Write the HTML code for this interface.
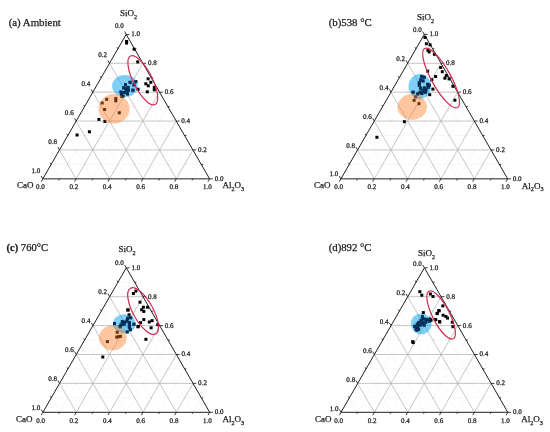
<!DOCTYPE html><html><head><meta charset="utf-8"><title>Ternary diagrams</title><style>html,body{margin:0;padding:0;background:#fff;}svg{display:block;}text{font-family:"Liberation Serif", "Times New Roman", serif;fill:#1a1a1a;stroke:#1a1a1a;stroke-width:0.25px;}</style></head><body>
<svg width="550" height="432" viewBox="0 0 550 432">
<rect width="550" height="432" fill="#fff"/>
<line x1="117.86" y1="48.84" x2="134.54" y2="48.84" stroke="#f4f4f4" stroke-width="0.7"/>
<line x1="59.48" y1="178.85" x2="134.54" y2="48.84" stroke="#f4f4f4" stroke-width="0.7"/>
<line x1="59.48" y1="178.85" x2="51.14" y2="164.41" stroke="#f4f4f4" stroke-width="0.7"/>
<line x1="101.18" y1="77.73" x2="151.22" y2="77.73" stroke="#f4f4f4" stroke-width="0.7"/>
<line x1="92.84" y1="178.85" x2="151.22" y2="77.74" stroke="#f4f4f4" stroke-width="0.7"/>
<line x1="92.84" y1="178.85" x2="67.82" y2="135.51" stroke="#f4f4f4" stroke-width="0.7"/>
<line x1="84.5" y1="106.62" x2="167.9" y2="106.62" stroke="#f4f4f4" stroke-width="0.7"/>
<line x1="126.2" y1="178.85" x2="167.9" y2="106.62" stroke="#f4f4f4" stroke-width="0.7"/>
<line x1="126.2" y1="178.85" x2="84.5" y2="106.62" stroke="#f4f4f4" stroke-width="0.7"/>
<line x1="67.82" y1="135.51" x2="184.58" y2="135.51" stroke="#f4f4f4" stroke-width="0.7"/>
<line x1="159.56" y1="178.85" x2="184.58" y2="135.51" stroke="#f4f4f4" stroke-width="0.7"/>
<line x1="159.56" y1="178.85" x2="101.18" y2="77.74" stroke="#f4f4f4" stroke-width="0.7"/>
<line x1="51.14" y1="164.41" x2="201.26" y2="164.41" stroke="#f4f4f4" stroke-width="0.7"/>
<line x1="192.92" y1="178.85" x2="201.26" y2="164.41" stroke="#f4f4f4" stroke-width="0.7"/>
<line x1="192.92" y1="178.85" x2="117.86" y2="48.84" stroke="#f4f4f4" stroke-width="0.7"/>
<line x1="109.52" y1="63.29" x2="142.88" y2="63.29" stroke="#b6b6b6" stroke-width="0.8"/>
<line x1="76.16" y1="178.85" x2="142.88" y2="63.29" stroke="#b6b6b6" stroke-width="0.8"/>
<line x1="76.16" y1="178.85" x2="59.48" y2="149.96" stroke="#b6b6b6" stroke-width="0.8"/>
<line x1="92.84" y1="92.18" x2="159.56" y2="92.18" stroke="#b6b6b6" stroke-width="0.8"/>
<line x1="109.52" y1="178.85" x2="159.56" y2="92.18" stroke="#b6b6b6" stroke-width="0.8"/>
<line x1="109.52" y1="178.85" x2="76.16" y2="121.07" stroke="#b6b6b6" stroke-width="0.8"/>
<line x1="76.16" y1="121.07" x2="176.24" y2="121.07" stroke="#b6b6b6" stroke-width="0.8"/>
<line x1="142.88" y1="178.85" x2="176.24" y2="121.07" stroke="#b6b6b6" stroke-width="0.8"/>
<line x1="142.88" y1="178.85" x2="92.84" y2="92.18" stroke="#b6b6b6" stroke-width="0.8"/>
<line x1="59.48" y1="149.96" x2="192.92" y2="149.96" stroke="#b6b6b6" stroke-width="0.8"/>
<line x1="176.24" y1="178.85" x2="192.92" y2="149.96" stroke="#b6b6b6" stroke-width="0.8"/>
<line x1="176.24" y1="178.85" x2="109.52" y2="63.29" stroke="#b6b6b6" stroke-width="0.8"/>
<path d="M126.2 34.4l-1.65 -2.86M126.2 34.4h3.3M42.8 178.85l-1.65 2.86M117.86 48.84l-0.9 -1.56M134.54 48.84h1.8M59.48 178.85l-0.9 1.56M109.52 63.29l-1.65 -2.86M142.88 63.29h3.3M76.16 178.85l-1.65 2.86M101.18 77.73l-0.9 -1.56M151.22 77.73h1.8M92.84 178.85l-0.9 1.56M92.84 92.18l-1.65 -2.86M159.56 92.18h3.3M109.52 178.85l-1.65 2.86M84.5 106.62l-0.9 -1.56M167.9 106.62h1.8M126.2 178.85l-0.9 1.56M76.16 121.07l-1.65 -2.86M176.24 121.07h3.3M142.88 178.85l-1.65 2.86M67.82 135.51l-0.9 -1.56M184.58 135.51h1.8M159.56 178.85l-0.9 1.56M59.48 149.96l-1.65 -2.86M192.92 149.96h3.3M176.24 178.85l-1.65 2.86M51.14 164.41l-0.9 -1.56M201.26 164.41h1.8M192.92 178.85l-0.9 1.56M42.8 178.85l-1.65 -2.86M209.6 178.85h3.3M209.6 178.85l-1.65 2.86" stroke="#222" stroke-width="0.9" fill="none"/>
<path d="M42.8 178.85L126.2 34.4L209.6 178.85Z" stroke="#1e1e1e" stroke-width="1" fill="none" stroke-linejoin="miter"/>
<g fill="#000"><rect x="125.1" y="40" width="3" height="3"/><rect x="125.1" y="41.6" width="3" height="3"/><rect x="132.6" y="47.7" width="3" height="3"/><rect x="136.2" y="60.4" width="3" height="3"/><rect x="146.6" y="77.3" width="3" height="3"/><rect x="149.3" y="80.8" width="3" height="3"/><rect x="144.3" y="82.3" width="3" height="3"/><rect x="146.8" y="84.3" width="3" height="3"/><rect x="152.8" y="85.8" width="3" height="3"/><rect x="152.8" y="88.3" width="3" height="3"/><rect x="145.8" y="90.3" width="3" height="3"/><rect x="136.6" y="87.8" width="3" height="3"/><rect x="75.6" y="133.5" width="3" height="3"/><rect x="87.9" y="130.3" width="3" height="3"/><rect x="97.4" y="117.9" width="3" height="3"/><rect x="128.6" y="80.8" width="3" height="3"/><rect x="134.4" y="80.1" width="3" height="3"/><rect x="124" y="83.2" width="3" height="3"/><rect x="132.5" y="83.4" width="3" height="3"/><rect x="122.3" y="86.4" width="3" height="3"/><rect x="126.5" y="85.9" width="3" height="3"/><rect x="124.4" y="87.3" width="3" height="3"/><rect x="126.9" y="88.7" width="3" height="3"/><rect x="131.4" y="88.7" width="3" height="3"/><rect x="119.5" y="90.6" width="3" height="3"/><rect x="122.8" y="91" width="3" height="3"/><rect x="126" y="92.4" width="3" height="3"/><rect x="120" y="93.3" width="3" height="3"/><rect x="121.4" y="94.7" width="3" height="3"/><rect x="124.8" y="89.3" width="3" height="3"/><rect x="105.2" y="97.8" width="3" height="3"/><rect x="114.3" y="97" width="3" height="3"/><rect x="114.3" y="99.4" width="3" height="3"/><rect x="100.7" y="101.5" width="3" height="3"/><rect x="103.1" y="108" width="3" height="3"/><rect x="117.8" y="111.3" width="3" height="3"/><rect x="103.4" y="119.9" width="3" height="3"/><rect x="120.3" y="95" width="3" height="3"/></g>
<ellipse cx="125" cy="86" rx="12.9" ry="10.9" fill="#0aa3ee" fill-opacity="0.52"/>
<clipPath id="cba"><ellipse cx="125" cy="86" rx="12.9" ry="10.9"/></clipPath>
<g fill="#052d55" clip-path="url(#cba)"><rect x="136.6" y="87.8" width="3" height="3"/><rect x="128.6" y="80.8" width="3" height="3"/><rect x="134.4" y="80.1" width="3" height="3"/><rect x="124" y="83.2" width="3" height="3"/><rect x="132.5" y="83.4" width="3" height="3"/><rect x="122.3" y="86.4" width="3" height="3"/><rect x="126.5" y="85.9" width="3" height="3"/><rect x="124.4" y="87.3" width="3" height="3"/><rect x="126.9" y="88.7" width="3" height="3"/><rect x="131.4" y="88.7" width="3" height="3"/><rect x="119.5" y="90.6" width="3" height="3"/><rect x="122.8" y="91" width="3" height="3"/><rect x="126" y="92.4" width="3" height="3"/><rect x="120" y="93.3" width="3" height="3"/><rect x="121.4" y="94.7" width="3" height="3"/><rect x="124.8" y="89.3" width="3" height="3"/><rect x="120.3" y="95" width="3" height="3"/></g>
<ellipse cx="114" cy="108.9" rx="15.5" ry="14.8" fill="#ff7a1a" fill-opacity="0.42"/>
<ellipse cx="142.8" cy="80.3" rx="27.2" ry="9.4" transform="rotate(63 142.8 80.3)" fill="none" stroke="#d22c55" stroke-width="1.2"/>
<g font-size="7.0" style="text-rendering:geometricPrecision;stroke-width:0.1px"><text x="123.7" y="28.2" text-anchor="end" textLength="8.8" lengthAdjust="spacingAndGlyphs">0.0</text><text x="131.3" y="36.3" textLength="8.8" lengthAdjust="spacingAndGlyphs">1.0</text><text x="40.5" y="189.05" text-anchor="middle" textLength="8.8" lengthAdjust="spacingAndGlyphs">0.0</text><text x="107.02" y="57.09" text-anchor="end" textLength="8.8" lengthAdjust="spacingAndGlyphs">0.2</text><text x="147.98" y="65.19" textLength="8.8" lengthAdjust="spacingAndGlyphs">0.8</text><text x="73.86" y="189.05" text-anchor="middle" textLength="8.8" lengthAdjust="spacingAndGlyphs">0.2</text><text x="90.34" y="85.98" text-anchor="end" textLength="8.8" lengthAdjust="spacingAndGlyphs">0.4</text><text x="164.66" y="94.08" textLength="8.8" lengthAdjust="spacingAndGlyphs">0.6</text><text x="107.22" y="189.05" text-anchor="middle" textLength="8.8" lengthAdjust="spacingAndGlyphs">0.4</text><text x="73.66" y="114.87" text-anchor="end" textLength="8.8" lengthAdjust="spacingAndGlyphs">0.6</text><text x="181.34" y="122.97" textLength="8.8" lengthAdjust="spacingAndGlyphs">0.4</text><text x="140.58" y="189.05" text-anchor="middle" textLength="8.8" lengthAdjust="spacingAndGlyphs">0.6</text><text x="56.98" y="143.76" text-anchor="end" textLength="8.8" lengthAdjust="spacingAndGlyphs">0.8</text><text x="198.02" y="151.86" textLength="8.8" lengthAdjust="spacingAndGlyphs">0.2</text><text x="173.94" y="189.05" text-anchor="middle" textLength="8.8" lengthAdjust="spacingAndGlyphs">0.8</text><text x="40.3" y="172.65" text-anchor="end" textLength="8.8" lengthAdjust="spacingAndGlyphs">1.0</text><text x="214.7" y="180.75" textLength="8.8" lengthAdjust="spacingAndGlyphs">0.0</text><text x="207.3" y="189.05" text-anchor="middle" textLength="8.8" lengthAdjust="spacingAndGlyphs">1.0</text></g>
<text x="119.9" y="15.9" font-size="9">SiO<tspan font-size="6.2" dy="2.9">2</tspan></text>
<text x="16.9" y="188.1" font-size="9">CaO</text>
<text x="222.5" y="188.3" font-size="9">Al<tspan font-size="6.2" dy="2.9">2</tspan><tspan dy="-2.9">O</tspan><tspan font-size="6.2" dy="2.9">3</tspan></text>
<text x="8.65" y="25.8" font-size="10.5" textLength="52.2" lengthAdjust="spacingAndGlyphs">(a) Ambient</text>
<line x1="415.96" y1="48.84" x2="432.64" y2="48.84" stroke="#f4f4f4" stroke-width="0.7"/>
<line x1="357.58" y1="178.85" x2="432.64" y2="48.84" stroke="#f4f4f4" stroke-width="0.7"/>
<line x1="357.58" y1="178.85" x2="349.24" y2="164.41" stroke="#f4f4f4" stroke-width="0.7"/>
<line x1="399.28" y1="77.73" x2="449.32" y2="77.73" stroke="#f4f4f4" stroke-width="0.7"/>
<line x1="390.94" y1="178.85" x2="449.32" y2="77.74" stroke="#f4f4f4" stroke-width="0.7"/>
<line x1="390.94" y1="178.85" x2="365.92" y2="135.51" stroke="#f4f4f4" stroke-width="0.7"/>
<line x1="382.6" y1="106.62" x2="466" y2="106.62" stroke="#f4f4f4" stroke-width="0.7"/>
<line x1="424.3" y1="178.85" x2="466" y2="106.62" stroke="#f4f4f4" stroke-width="0.7"/>
<line x1="424.3" y1="178.85" x2="382.6" y2="106.62" stroke="#f4f4f4" stroke-width="0.7"/>
<line x1="365.92" y1="135.51" x2="482.68" y2="135.51" stroke="#f4f4f4" stroke-width="0.7"/>
<line x1="457.66" y1="178.85" x2="482.68" y2="135.51" stroke="#f4f4f4" stroke-width="0.7"/>
<line x1="457.66" y1="178.85" x2="399.28" y2="77.74" stroke="#f4f4f4" stroke-width="0.7"/>
<line x1="349.24" y1="164.41" x2="499.36" y2="164.41" stroke="#f4f4f4" stroke-width="0.7"/>
<line x1="491.02" y1="178.85" x2="499.36" y2="164.41" stroke="#f4f4f4" stroke-width="0.7"/>
<line x1="491.02" y1="178.85" x2="415.96" y2="48.84" stroke="#f4f4f4" stroke-width="0.7"/>
<line x1="407.62" y1="63.29" x2="440.98" y2="63.29" stroke="#b6b6b6" stroke-width="0.8"/>
<line x1="374.26" y1="178.85" x2="440.98" y2="63.29" stroke="#b6b6b6" stroke-width="0.8"/>
<line x1="374.26" y1="178.85" x2="357.58" y2="149.96" stroke="#b6b6b6" stroke-width="0.8"/>
<line x1="390.94" y1="92.18" x2="457.66" y2="92.18" stroke="#b6b6b6" stroke-width="0.8"/>
<line x1="407.62" y1="178.85" x2="457.66" y2="92.18" stroke="#b6b6b6" stroke-width="0.8"/>
<line x1="407.62" y1="178.85" x2="374.26" y2="121.07" stroke="#b6b6b6" stroke-width="0.8"/>
<line x1="374.26" y1="121.07" x2="474.34" y2="121.07" stroke="#b6b6b6" stroke-width="0.8"/>
<line x1="440.98" y1="178.85" x2="474.34" y2="121.07" stroke="#b6b6b6" stroke-width="0.8"/>
<line x1="440.98" y1="178.85" x2="390.94" y2="92.18" stroke="#b6b6b6" stroke-width="0.8"/>
<line x1="357.58" y1="149.96" x2="491.02" y2="149.96" stroke="#b6b6b6" stroke-width="0.8"/>
<line x1="474.34" y1="178.85" x2="491.02" y2="149.96" stroke="#b6b6b6" stroke-width="0.8"/>
<line x1="474.34" y1="178.85" x2="407.62" y2="63.29" stroke="#b6b6b6" stroke-width="0.8"/>
<path d="M424.3 34.4l-1.65 -2.86M424.3 34.4h3.3M340.9 178.85l-1.65 2.86M415.96 48.84l-0.9 -1.56M432.64 48.84h1.8M357.58 178.85l-0.9 1.56M407.62 63.29l-1.65 -2.86M440.98 63.29h3.3M374.26 178.85l-1.65 2.86M399.28 77.73l-0.9 -1.56M449.32 77.73h1.8M390.94 178.85l-0.9 1.56M390.94 92.18l-1.65 -2.86M457.66 92.18h3.3M407.62 178.85l-1.65 2.86M382.6 106.62l-0.9 -1.56M466 106.62h1.8M424.3 178.85l-0.9 1.56M374.26 121.07l-1.65 -2.86M474.34 121.07h3.3M440.98 178.85l-1.65 2.86M365.92 135.51l-0.9 -1.56M482.68 135.51h1.8M457.66 178.85l-0.9 1.56M357.58 149.96l-1.65 -2.86M491.02 149.96h3.3M474.34 178.85l-1.65 2.86M349.24 164.41l-0.9 -1.56M499.36 164.41h1.8M491.02 178.85l-0.9 1.56M340.9 178.85l-1.65 -2.86M507.7 178.85h3.3M507.7 178.85l-1.65 2.86" stroke="#222" stroke-width="0.9" fill="none"/>
<path d="M340.9 178.85L424.3 34.4L507.7 178.85Z" stroke="#1e1e1e" stroke-width="1" fill="none" stroke-linejoin="miter"/>
<g fill="#000"><rect x="423.5" y="36" width="3" height="3"/><rect x="424.9" y="42.3" width="3" height="3"/><rect x="428.6" y="43.4" width="3" height="3"/><rect x="426.4" y="48.9" width="3" height="3"/><rect x="427.7" y="50.4" width="3" height="3"/><rect x="432.9" y="52.8" width="3" height="3"/><rect x="439.2" y="66" width="3" height="3"/><rect x="440.8" y="70.2" width="3" height="3"/><rect x="426.2" y="69.7" width="3" height="3"/><rect x="434.1" y="75" width="3" height="3"/><rect x="444.8" y="74.1" width="3" height="3"/><rect x="443.4" y="76.7" width="3" height="3"/><rect x="447.6" y="77.4" width="3" height="3"/><rect x="451.4" y="84.8" width="3" height="3"/><rect x="430.3" y="78.2" width="3" height="3"/><rect x="431.4" y="87.6" width="3" height="3"/><rect x="453.4" y="98.7" width="3" height="3"/><rect x="420.1" y="74.9" width="3" height="3"/><rect x="422.7" y="75.7" width="3" height="3"/><rect x="421.5" y="79.4" width="3" height="3"/><rect x="417.8" y="81.2" width="3" height="3"/><rect x="417.8" y="83.7" width="3" height="3"/><rect x="426.1" y="82.8" width="3" height="3"/><rect x="428" y="83.7" width="3" height="3"/><rect x="426.6" y="86" width="3" height="3"/><rect x="422.9" y="86.5" width="3" height="3"/><rect x="419.2" y="86.8" width="3" height="3"/><rect x="421.5" y="89.3" width="3" height="3"/><rect x="424.5" y="88.6" width="3" height="3"/><rect x="418.7" y="90.7" width="3" height="3"/><rect x="416.2" y="92.5" width="3" height="3"/><rect x="411.6" y="90.7" width="3" height="3"/><rect x="420.3" y="92" width="3" height="3"/><rect x="428.2" y="93.2" width="3" height="3"/><rect x="423.8" y="90.7" width="3" height="3"/><rect x="419.3" y="78.3" width="3" height="3"/><rect x="414.1" y="95.4" width="3" height="3"/><rect x="412.6" y="98.8" width="3" height="3"/><rect x="417.5" y="102.2" width="3" height="3"/><rect x="402.9" y="120.2" width="3" height="3"/><rect x="375.4" y="135.8" width="3" height="3"/></g>
<ellipse cx="419.8" cy="86.4" rx="11.3" ry="12.4" fill="#0aa3ee" fill-opacity="0.52"/>
<clipPath id="cbb"><ellipse cx="419.8" cy="86.4" rx="11.3" ry="12.4"/></clipPath>
<g fill="#052d55" clip-path="url(#cbb)"><rect x="431.4" y="87.6" width="3" height="3"/><rect x="420.1" y="74.9" width="3" height="3"/><rect x="422.7" y="75.7" width="3" height="3"/><rect x="421.5" y="79.4" width="3" height="3"/><rect x="417.8" y="81.2" width="3" height="3"/><rect x="417.8" y="83.7" width="3" height="3"/><rect x="426.1" y="82.8" width="3" height="3"/><rect x="428" y="83.7" width="3" height="3"/><rect x="426.6" y="86" width="3" height="3"/><rect x="422.9" y="86.5" width="3" height="3"/><rect x="419.2" y="86.8" width="3" height="3"/><rect x="421.5" y="89.3" width="3" height="3"/><rect x="424.5" y="88.6" width="3" height="3"/><rect x="418.7" y="90.7" width="3" height="3"/><rect x="416.2" y="92.5" width="3" height="3"/><rect x="411.6" y="90.7" width="3" height="3"/><rect x="420.3" y="92" width="3" height="3"/><rect x="428.2" y="93.2" width="3" height="3"/><rect x="423.8" y="90.7" width="3" height="3"/><rect x="419.3" y="78.3" width="3" height="3"/><rect x="414.1" y="95.4" width="3" height="3"/></g>
<ellipse cx="412.2" cy="107" rx="14.7" ry="12.9" fill="#ff7a1a" fill-opacity="0.42"/>
<ellipse cx="441.1" cy="78" rx="33.8" ry="9.6" transform="rotate(61 441.1 78)" fill="none" stroke="#d22c55" stroke-width="1.2"/>
<g font-size="7.0" style="text-rendering:geometricPrecision;stroke-width:0.1px"><text x="421.8" y="32" text-anchor="end" textLength="8.8" lengthAdjust="spacingAndGlyphs">0.0</text><text x="429.4" y="36.3" textLength="8.8" lengthAdjust="spacingAndGlyphs">1.0</text><text x="338.6" y="189.05" text-anchor="middle" textLength="8.8" lengthAdjust="spacingAndGlyphs">0.0</text><text x="405.12" y="60.89" text-anchor="end" textLength="8.8" lengthAdjust="spacingAndGlyphs">0.2</text><text x="446.08" y="65.19" textLength="8.8" lengthAdjust="spacingAndGlyphs">0.8</text><text x="371.96" y="189.05" text-anchor="middle" textLength="8.8" lengthAdjust="spacingAndGlyphs">0.2</text><text x="388.44" y="89.78" text-anchor="end" textLength="8.8" lengthAdjust="spacingAndGlyphs">0.4</text><text x="462.76" y="94.08" textLength="8.8" lengthAdjust="spacingAndGlyphs">0.6</text><text x="405.32" y="189.05" text-anchor="middle" textLength="8.8" lengthAdjust="spacingAndGlyphs">0.4</text><text x="371.76" y="118.67" text-anchor="end" textLength="8.8" lengthAdjust="spacingAndGlyphs">0.6</text><text x="479.44" y="122.97" textLength="8.8" lengthAdjust="spacingAndGlyphs">0.4</text><text x="438.68" y="189.05" text-anchor="middle" textLength="8.8" lengthAdjust="spacingAndGlyphs">0.6</text><text x="355.08" y="147.56" text-anchor="end" textLength="8.8" lengthAdjust="spacingAndGlyphs">0.8</text><text x="496.12" y="151.86" textLength="8.8" lengthAdjust="spacingAndGlyphs">0.2</text><text x="472.04" y="189.05" text-anchor="middle" textLength="8.8" lengthAdjust="spacingAndGlyphs">0.8</text><text x="338.4" y="176.45" text-anchor="end" textLength="8.8" lengthAdjust="spacingAndGlyphs">1.0</text><text x="512.8" y="180.75" textLength="8.8" lengthAdjust="spacingAndGlyphs">0.0</text><text x="505.4" y="189.05" text-anchor="middle" textLength="8.8" lengthAdjust="spacingAndGlyphs">1.0</text></g>
<text x="417" y="20.1" font-size="9">SiO<tspan font-size="6.2" dy="2.9">2</tspan></text>
<text x="314.1" y="187.9" font-size="9">CaO</text>
<text x="521.8" y="188.5" font-size="9">Al<tspan font-size="6.2" dy="2.9">2</tspan><tspan dy="-2.9">O</tspan><tspan font-size="6.2" dy="2.9">3</tspan></text>
<text x="328.7" y="26.2" font-size="10.5" textLength="43.1" lengthAdjust="spacingAndGlyphs">(b)538 °C</text>
<line x1="117.96" y1="282.25" x2="134.64" y2="282.25" stroke="#f4f4f4" stroke-width="0.7"/>
<line x1="59.58" y1="412.3" x2="134.64" y2="282.25" stroke="#f4f4f4" stroke-width="0.7"/>
<line x1="59.58" y1="412.3" x2="51.24" y2="397.85" stroke="#f4f4f4" stroke-width="0.7"/>
<line x1="101.28" y1="311.15" x2="151.32" y2="311.15" stroke="#f4f4f4" stroke-width="0.7"/>
<line x1="92.94" y1="412.3" x2="151.32" y2="311.15" stroke="#f4f4f4" stroke-width="0.7"/>
<line x1="92.94" y1="412.3" x2="67.92" y2="368.95" stroke="#f4f4f4" stroke-width="0.7"/>
<line x1="84.6" y1="340.05" x2="168" y2="340.05" stroke="#f4f4f4" stroke-width="0.7"/>
<line x1="126.3" y1="412.3" x2="168" y2="340.05" stroke="#f4f4f4" stroke-width="0.7"/>
<line x1="126.3" y1="412.3" x2="84.6" y2="340.05" stroke="#f4f4f4" stroke-width="0.7"/>
<line x1="67.92" y1="368.95" x2="184.68" y2="368.95" stroke="#f4f4f4" stroke-width="0.7"/>
<line x1="159.66" y1="412.3" x2="184.68" y2="368.95" stroke="#f4f4f4" stroke-width="0.7"/>
<line x1="159.66" y1="412.3" x2="101.28" y2="311.15" stroke="#f4f4f4" stroke-width="0.7"/>
<line x1="51.24" y1="397.85" x2="201.36" y2="397.85" stroke="#f4f4f4" stroke-width="0.7"/>
<line x1="193.02" y1="412.3" x2="201.36" y2="397.85" stroke="#f4f4f4" stroke-width="0.7"/>
<line x1="193.02" y1="412.3" x2="117.96" y2="282.25" stroke="#f4f4f4" stroke-width="0.7"/>
<line x1="109.62" y1="296.7" x2="142.98" y2="296.7" stroke="#b6b6b6" stroke-width="0.8"/>
<line x1="76.26" y1="412.3" x2="142.98" y2="296.7" stroke="#b6b6b6" stroke-width="0.8"/>
<line x1="76.26" y1="412.3" x2="59.58" y2="383.4" stroke="#b6b6b6" stroke-width="0.8"/>
<line x1="92.94" y1="325.6" x2="159.66" y2="325.6" stroke="#b6b6b6" stroke-width="0.8"/>
<line x1="109.62" y1="412.3" x2="159.66" y2="325.6" stroke="#b6b6b6" stroke-width="0.8"/>
<line x1="109.62" y1="412.3" x2="76.26" y2="354.5" stroke="#b6b6b6" stroke-width="0.8"/>
<line x1="76.26" y1="354.5" x2="176.34" y2="354.5" stroke="#b6b6b6" stroke-width="0.8"/>
<line x1="142.98" y1="412.3" x2="176.34" y2="354.5" stroke="#b6b6b6" stroke-width="0.8"/>
<line x1="142.98" y1="412.3" x2="92.94" y2="325.6" stroke="#b6b6b6" stroke-width="0.8"/>
<line x1="59.58" y1="383.4" x2="193.02" y2="383.4" stroke="#b6b6b6" stroke-width="0.8"/>
<line x1="176.34" y1="412.3" x2="193.02" y2="383.4" stroke="#b6b6b6" stroke-width="0.8"/>
<line x1="176.34" y1="412.3" x2="109.62" y2="296.7" stroke="#b6b6b6" stroke-width="0.8"/>
<path d="M126.3 267.8l-1.65 -2.86M126.3 267.8h3.3M42.9 412.3l-1.65 2.86M117.96 282.25l-0.9 -1.56M134.64 282.25h1.8M59.58 412.3l-0.9 1.56M109.62 296.7l-1.65 -2.86M142.98 296.7h3.3M76.26 412.3l-1.65 2.86M101.28 311.15l-0.9 -1.56M151.32 311.15h1.8M92.94 412.3l-0.9 1.56M92.94 325.6l-1.65 -2.86M159.66 325.6h3.3M109.62 412.3l-1.65 2.86M84.6 340.05l-0.9 -1.56M168 340.05h1.8M126.3 412.3l-0.9 1.56M76.26 354.5l-1.65 -2.86M176.34 354.5h3.3M142.98 412.3l-1.65 2.86M67.92 368.95l-0.9 -1.56M184.68 368.95h1.8M159.66 412.3l-0.9 1.56M59.58 383.4l-1.65 -2.86M193.02 383.4h3.3M176.34 412.3l-1.65 2.86M51.24 397.85l-0.9 -1.56M201.36 397.85h1.8M193.02 412.3l-0.9 1.56M42.9 412.3l-1.65 -2.86M209.7 412.3h3.3M209.7 412.3l-1.65 2.86" stroke="#222" stroke-width="0.9" fill="none"/>
<path d="M42.9 412.3L126.3 267.8L209.7 412.3Z" stroke="#1e1e1e" stroke-width="1" fill="none" stroke-linejoin="miter"/>
<g fill="#000"><rect x="131.9" y="292" width="3" height="3"/><rect x="134.4" y="289.6" width="3" height="3"/><rect x="138.5" y="300.7" width="3" height="3"/><rect x="126.6" y="308.4" width="3" height="3"/><rect x="141.9" y="305.7" width="3" height="3"/><rect x="140.2" y="308.2" width="3" height="3"/><rect x="142.3" y="309.9" width="3" height="3"/><rect x="146.1" y="305.7" width="3" height="3"/><rect x="142.3" y="318.1" width="3" height="3"/><rect x="139.1" y="321.2" width="3" height="3"/><rect x="147.8" y="320.5" width="3" height="3"/><rect x="150.6" y="319.1" width="3" height="3"/><rect x="156.2" y="323.2" width="3" height="3"/><rect x="136.7" y="324.9" width="3" height="3"/><rect x="149.6" y="326.3" width="3" height="3"/><rect x="144.4" y="337.8" width="3" height="3"/><rect x="126.3" y="308.5" width="3" height="3"/><rect x="127.6" y="313.3" width="3" height="3"/><rect x="129.2" y="316.2" width="3" height="3"/><rect x="126" y="316.9" width="3" height="3"/><rect x="120.8" y="320.1" width="3" height="3"/><rect x="123.1" y="320.8" width="3" height="3"/><rect x="125.4" y="319.5" width="3" height="3"/><rect x="127.9" y="321.1" width="3" height="3"/><rect x="119.5" y="323.4" width="3" height="3"/><rect x="122.4" y="322.7" width="3" height="3"/><rect x="127.9" y="323.7" width="3" height="3"/><rect x="118.5" y="325.3" width="3" height="3"/><rect x="127.9" y="325.9" width="3" height="3"/><rect x="128.9" y="328.2" width="3" height="3"/><rect x="125.7" y="330.5" width="3" height="3"/><rect x="113" y="322.1" width="3" height="3"/><rect x="132.5" y="322.7" width="3" height="3"/><rect x="136.5" y="325.3" width="3" height="3"/><rect x="115.7" y="330.8" width="3" height="3"/><rect x="115.2" y="335.6" width="3" height="3"/><rect x="117" y="335.2" width="3" height="3"/><rect x="118.9" y="334.9" width="3" height="3"/><rect x="105.9" y="340.1" width="3" height="3"/><rect x="101.3" y="355.5" width="3" height="3"/></g>
<ellipse cx="124.3" cy="323.7" rx="11.3" ry="9.5" fill="#0aa3ee" fill-opacity="0.52"/>
<clipPath id="cbc"><ellipse cx="124.3" cy="323.7" rx="11.3" ry="9.5"/></clipPath>
<g fill="#052d55" clip-path="url(#cbc)"><rect x="127.6" y="313.3" width="3" height="3"/><rect x="129.2" y="316.2" width="3" height="3"/><rect x="126" y="316.9" width="3" height="3"/><rect x="120.8" y="320.1" width="3" height="3"/><rect x="123.1" y="320.8" width="3" height="3"/><rect x="125.4" y="319.5" width="3" height="3"/><rect x="127.9" y="321.1" width="3" height="3"/><rect x="119.5" y="323.4" width="3" height="3"/><rect x="122.4" y="322.7" width="3" height="3"/><rect x="127.9" y="323.7" width="3" height="3"/><rect x="118.5" y="325.3" width="3" height="3"/><rect x="127.9" y="325.9" width="3" height="3"/><rect x="128.9" y="328.2" width="3" height="3"/><rect x="125.7" y="330.5" width="3" height="3"/><rect x="113" y="322.1" width="3" height="3"/><rect x="132.5" y="322.7" width="3" height="3"/><rect x="115.7" y="330.8" width="3" height="3"/></g>
<ellipse cx="112.7" cy="337.9" rx="13.9" ry="12.4" fill="#ff7a1a" fill-opacity="0.42"/>
<ellipse cx="143.1" cy="311.1" rx="26.1" ry="10" transform="rotate(61 143.1 311.1)" fill="none" stroke="#d22c55" stroke-width="1.2"/>
<g font-size="7.0" style="text-rendering:geometricPrecision;stroke-width:0.1px"><text x="123.8" y="265.3" text-anchor="end" textLength="8.8" lengthAdjust="spacingAndGlyphs">0.0</text><text x="131.4" y="269.7" textLength="8.8" lengthAdjust="spacingAndGlyphs">1.0</text><text x="40.6" y="422.5" text-anchor="middle" textLength="8.8" lengthAdjust="spacingAndGlyphs">0.0</text><text x="107.12" y="294.2" text-anchor="end" textLength="8.8" lengthAdjust="spacingAndGlyphs">0.2</text><text x="148.08" y="298.6" textLength="8.8" lengthAdjust="spacingAndGlyphs">0.8</text><text x="73.96" y="422.5" text-anchor="middle" textLength="8.8" lengthAdjust="spacingAndGlyphs">0.2</text><text x="90.44" y="323.1" text-anchor="end" textLength="8.8" lengthAdjust="spacingAndGlyphs">0.4</text><text x="164.76" y="327.5" textLength="8.8" lengthAdjust="spacingAndGlyphs">0.6</text><text x="107.32" y="422.5" text-anchor="middle" textLength="8.8" lengthAdjust="spacingAndGlyphs">0.4</text><text x="73.76" y="352" text-anchor="end" textLength="8.8" lengthAdjust="spacingAndGlyphs">0.6</text><text x="181.44" y="356.4" textLength="8.8" lengthAdjust="spacingAndGlyphs">0.4</text><text x="140.68" y="422.5" text-anchor="middle" textLength="8.8" lengthAdjust="spacingAndGlyphs">0.6</text><text x="57.08" y="380.9" text-anchor="end" textLength="8.8" lengthAdjust="spacingAndGlyphs">0.8</text><text x="198.12" y="385.3" textLength="8.8" lengthAdjust="spacingAndGlyphs">0.2</text><text x="174.04" y="422.5" text-anchor="middle" textLength="8.8" lengthAdjust="spacingAndGlyphs">0.8</text><text x="40.4" y="409.8" text-anchor="end" textLength="8.8" lengthAdjust="spacingAndGlyphs">1.0</text><text x="214.8" y="414.2" textLength="8.8" lengthAdjust="spacingAndGlyphs">0.0</text><text x="207.4" y="422.5" text-anchor="middle" textLength="8.8" lengthAdjust="spacingAndGlyphs">1.0</text></g>
<text x="118.6" y="251.7" font-size="9">SiO<tspan font-size="6.2" dy="2.9">2</tspan></text>
<text x="15.9" y="421.6" font-size="9">CaO</text>
<text x="222.5" y="421.6" font-size="9">Al<tspan font-size="6.2" dy="2.9">2</tspan><tspan dy="-2.9">O</tspan><tspan font-size="6.2" dy="2.9">3</tspan></text>
<text x="6.5" y="250.5" font-size="10.5" textLength="41.5" lengthAdjust="spacingAndGlyphs"><tspan font-weight="bold">(c)</tspan> 760°C</text>
<line x1="416.06" y1="282.25" x2="432.74" y2="282.25" stroke="#f4f4f4" stroke-width="0.7"/>
<line x1="357.68" y1="412.3" x2="432.74" y2="282.25" stroke="#f4f4f4" stroke-width="0.7"/>
<line x1="357.68" y1="412.3" x2="349.34" y2="397.85" stroke="#f4f4f4" stroke-width="0.7"/>
<line x1="399.38" y1="311.15" x2="449.42" y2="311.15" stroke="#f4f4f4" stroke-width="0.7"/>
<line x1="391.04" y1="412.3" x2="449.42" y2="311.15" stroke="#f4f4f4" stroke-width="0.7"/>
<line x1="391.04" y1="412.3" x2="366.02" y2="368.95" stroke="#f4f4f4" stroke-width="0.7"/>
<line x1="382.7" y1="340.05" x2="466.1" y2="340.05" stroke="#f4f4f4" stroke-width="0.7"/>
<line x1="424.4" y1="412.3" x2="466.1" y2="340.05" stroke="#f4f4f4" stroke-width="0.7"/>
<line x1="424.4" y1="412.3" x2="382.7" y2="340.05" stroke="#f4f4f4" stroke-width="0.7"/>
<line x1="366.02" y1="368.95" x2="482.78" y2="368.95" stroke="#f4f4f4" stroke-width="0.7"/>
<line x1="457.76" y1="412.3" x2="482.78" y2="368.95" stroke="#f4f4f4" stroke-width="0.7"/>
<line x1="457.76" y1="412.3" x2="399.38" y2="311.15" stroke="#f4f4f4" stroke-width="0.7"/>
<line x1="349.34" y1="397.85" x2="499.46" y2="397.85" stroke="#f4f4f4" stroke-width="0.7"/>
<line x1="491.12" y1="412.3" x2="499.46" y2="397.85" stroke="#f4f4f4" stroke-width="0.7"/>
<line x1="491.12" y1="412.3" x2="416.06" y2="282.25" stroke="#f4f4f4" stroke-width="0.7"/>
<line x1="407.72" y1="296.7" x2="441.08" y2="296.7" stroke="#b6b6b6" stroke-width="0.8"/>
<line x1="374.36" y1="412.3" x2="441.08" y2="296.7" stroke="#b6b6b6" stroke-width="0.8"/>
<line x1="374.36" y1="412.3" x2="357.68" y2="383.4" stroke="#b6b6b6" stroke-width="0.8"/>
<line x1="391.04" y1="325.6" x2="457.76" y2="325.6" stroke="#b6b6b6" stroke-width="0.8"/>
<line x1="407.72" y1="412.3" x2="457.76" y2="325.6" stroke="#b6b6b6" stroke-width="0.8"/>
<line x1="407.72" y1="412.3" x2="374.36" y2="354.5" stroke="#b6b6b6" stroke-width="0.8"/>
<line x1="374.36" y1="354.5" x2="474.44" y2="354.5" stroke="#b6b6b6" stroke-width="0.8"/>
<line x1="441.08" y1="412.3" x2="474.44" y2="354.5" stroke="#b6b6b6" stroke-width="0.8"/>
<line x1="441.08" y1="412.3" x2="391.04" y2="325.6" stroke="#b6b6b6" stroke-width="0.8"/>
<line x1="357.68" y1="383.4" x2="491.12" y2="383.4" stroke="#b6b6b6" stroke-width="0.8"/>
<line x1="474.44" y1="412.3" x2="491.12" y2="383.4" stroke="#b6b6b6" stroke-width="0.8"/>
<line x1="474.44" y1="412.3" x2="407.72" y2="296.7" stroke="#b6b6b6" stroke-width="0.8"/>
<path d="M424.4 267.8l-1.65 -2.86M424.4 267.8h3.3M341 412.3l-1.65 2.86M416.06 282.25l-0.9 -1.56M432.74 282.25h1.8M357.68 412.3l-0.9 1.56M407.72 296.7l-1.65 -2.86M441.08 296.7h3.3M374.36 412.3l-1.65 2.86M399.38 311.15l-0.9 -1.56M449.42 311.15h1.8M391.04 412.3l-0.9 1.56M391.04 325.6l-1.65 -2.86M457.76 325.6h3.3M407.72 412.3l-1.65 2.86M382.7 340.05l-0.9 -1.56M466.1 340.05h1.8M424.4 412.3l-0.9 1.56M374.36 354.5l-1.65 -2.86M474.44 354.5h3.3M441.08 412.3l-1.65 2.86M366.02 368.95l-0.9 -1.56M482.78 368.95h1.8M457.76 412.3l-0.9 1.56M357.68 383.4l-1.65 -2.86M491.12 383.4h3.3M474.44 412.3l-1.65 2.86M349.34 397.85l-0.9 -1.56M499.46 397.85h1.8M491.12 412.3l-0.9 1.56M341 412.3l-1.65 -2.86M507.8 412.3h3.3M507.8 412.3l-1.65 2.86" stroke="#222" stroke-width="0.9" fill="none"/>
<path d="M341 412.3L424.4 267.8L507.8 412.3Z" stroke="#1e1e1e" stroke-width="1" fill="none" stroke-linejoin="miter"/>
<g fill="#000"><rect x="418.3" y="290.2" width="3" height="3"/><rect x="420.3" y="293.7" width="3" height="3"/><rect x="428.9" y="292.5" width="3" height="3"/><rect x="431.5" y="295" width="3" height="3"/><rect x="441.3" y="304.4" width="3" height="3"/><rect x="437.4" y="309" width="3" height="3"/><rect x="435.5" y="312.1" width="3" height="3"/><rect x="441.6" y="313.7" width="3" height="3"/><rect x="444.4" y="315" width="3" height="3"/><rect x="446" y="316.6" width="3" height="3"/><rect x="434.3" y="318.2" width="3" height="3"/><rect x="438.3" y="320.5" width="3" height="3"/><rect x="450.8" y="320.7" width="3" height="3"/><rect x="451.4" y="325.2" width="3" height="3"/><rect x="421.8" y="311.1" width="3" height="3"/><rect x="433.7" y="317.9" width="3" height="3"/><rect x="435.9" y="311.9" width="3" height="3"/><rect x="437.6" y="309.4" width="3" height="3"/><rect x="438" y="320.1" width="3" height="3"/><rect x="411.2" y="340.2" width="3" height="3"/><rect x="411.7" y="341.1" width="3" height="3"/><rect x="420.9" y="315.4" width="3" height="3"/><rect x="422.2" y="317.5" width="3" height="3"/><rect x="419.6" y="318.8" width="3" height="3"/><rect x="425.2" y="317.9" width="3" height="3"/><rect x="428.6" y="317.5" width="3" height="3"/><rect x="417.5" y="320.9" width="3" height="3"/><rect x="420.9" y="321.3" width="3" height="3"/><rect x="424.3" y="320.5" width="3" height="3"/><rect x="427.8" y="319.6" width="3" height="3"/><rect x="415.8" y="322.6" width="3" height="3"/><rect x="418.8" y="323.5" width="3" height="3"/><rect x="422.6" y="323.5" width="3" height="3"/><rect x="413.2" y="324.8" width="3" height="3"/><rect x="416.2" y="325.2" width="3" height="3"/><rect x="414.5" y="327.3" width="3" height="3"/><rect x="417.1" y="327.8" width="3" height="3"/><rect x="415.3" y="328.6" width="3" height="3"/><rect x="429.5" y="318.8" width="3" height="3"/></g>
<ellipse cx="421.2" cy="323.9" rx="10.4" ry="10.3" fill="#0aa3ee" fill-opacity="0.52"/>
<clipPath id="cbd"><ellipse cx="421.2" cy="323.9" rx="10.4" ry="10.3"/></clipPath>
<g fill="#052d55" clip-path="url(#cbd)"><rect x="421.8" y="311.1" width="3" height="3"/><rect x="420.9" y="315.4" width="3" height="3"/><rect x="422.2" y="317.5" width="3" height="3"/><rect x="419.6" y="318.8" width="3" height="3"/><rect x="425.2" y="317.9" width="3" height="3"/><rect x="428.6" y="317.5" width="3" height="3"/><rect x="417.5" y="320.9" width="3" height="3"/><rect x="420.9" y="321.3" width="3" height="3"/><rect x="424.3" y="320.5" width="3" height="3"/><rect x="427.8" y="319.6" width="3" height="3"/><rect x="415.8" y="322.6" width="3" height="3"/><rect x="418.8" y="323.5" width="3" height="3"/><rect x="422.6" y="323.5" width="3" height="3"/><rect x="413.2" y="324.8" width="3" height="3"/><rect x="416.2" y="325.2" width="3" height="3"/><rect x="414.5" y="327.3" width="3" height="3"/><rect x="417.1" y="327.8" width="3" height="3"/><rect x="415.3" y="328.6" width="3" height="3"/><rect x="429.5" y="318.8" width="3" height="3"/></g>
<ellipse cx="441.1" cy="315" rx="26.6" ry="8.5" transform="rotate(63 441.1 315)" fill="none" stroke="#d22c55" stroke-width="1.2"/>
<g font-size="7.0" style="text-rendering:geometricPrecision;stroke-width:0.1px"><text x="421.9" y="266.3" text-anchor="end" textLength="8.8" lengthAdjust="spacingAndGlyphs">0.0</text><text x="429.5" y="269.7" textLength="8.8" lengthAdjust="spacingAndGlyphs">1.0</text><text x="338.7" y="422.5" text-anchor="middle" textLength="8.8" lengthAdjust="spacingAndGlyphs">0.0</text><text x="405.22" y="295.2" text-anchor="end" textLength="8.8" lengthAdjust="spacingAndGlyphs">0.2</text><text x="446.18" y="298.6" textLength="8.8" lengthAdjust="spacingAndGlyphs">0.8</text><text x="372.06" y="422.5" text-anchor="middle" textLength="8.8" lengthAdjust="spacingAndGlyphs">0.2</text><text x="388.54" y="324.1" text-anchor="end" textLength="8.8" lengthAdjust="spacingAndGlyphs">0.4</text><text x="462.86" y="327.5" textLength="8.8" lengthAdjust="spacingAndGlyphs">0.6</text><text x="405.42" y="422.5" text-anchor="middle" textLength="8.8" lengthAdjust="spacingAndGlyphs">0.4</text><text x="371.86" y="353" text-anchor="end" textLength="8.8" lengthAdjust="spacingAndGlyphs">0.6</text><text x="479.54" y="356.4" textLength="8.8" lengthAdjust="spacingAndGlyphs">0.4</text><text x="438.78" y="422.5" text-anchor="middle" textLength="8.8" lengthAdjust="spacingAndGlyphs">0.6</text><text x="355.18" y="381.9" text-anchor="end" textLength="8.8" lengthAdjust="spacingAndGlyphs">0.8</text><text x="496.22" y="385.3" textLength="8.8" lengthAdjust="spacingAndGlyphs">0.2</text><text x="472.14" y="422.5" text-anchor="middle" textLength="8.8" lengthAdjust="spacingAndGlyphs">0.8</text><text x="338.5" y="410.8" text-anchor="end" textLength="8.8" lengthAdjust="spacingAndGlyphs">1.0</text><text x="512.9" y="414.2" textLength="8.8" lengthAdjust="spacingAndGlyphs">0.0</text><text x="505.5" y="422.5" text-anchor="middle" textLength="8.8" lengthAdjust="spacingAndGlyphs">1.0</text></g>
<text x="418" y="255.8" font-size="9">SiO<tspan font-size="6.2" dy="2.9">2</tspan></text>
<text x="315" y="421.6" font-size="9">CaO</text>
<text x="521.2" y="422" font-size="9">Al<tspan font-size="6.2" dy="2.9">2</tspan><tspan dy="-2.9">O</tspan><tspan font-size="6.2" dy="2.9">3</tspan></text>
<text x="328.7" y="250.9" font-size="10.5" textLength="42.8" lengthAdjust="spacingAndGlyphs">(d)892 °C</text>
</svg></body></html>
